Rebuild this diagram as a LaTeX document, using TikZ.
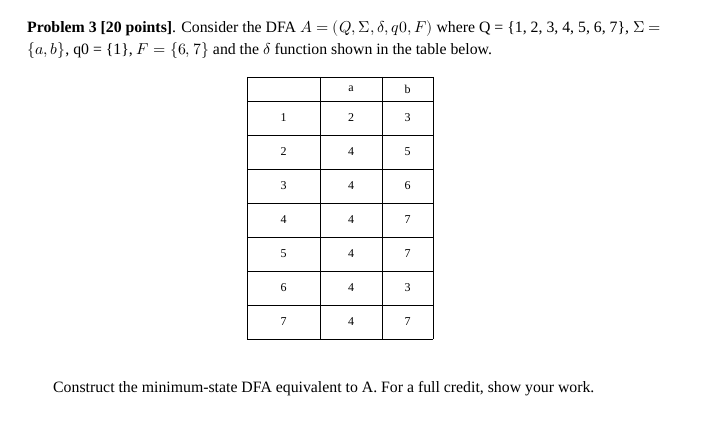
\documentclass[tikz,border=0pt]{standalone}
\usepackage{fontspec}
\setmainfont{Liberation Serif}
\usepackage{unicode-math}
\setmathfont{Latin Modern Math}
\begin{document}
\begin{tikzpicture}[x=1pt,y=-1pt,
  txt/.style={anchor=base west,inner sep=0pt,font=\fontsize{15.8}{18}\selectfont},
  cell/.style={inner sep=0pt,font=\fontsize{12}{14}\selectfont}]
\useasboundingbox (0,0) rectangle (713,430);
\node[txt] (l1) at (27,33) {\textbf{Problem 3 [20 points]}. Consider the DFA $A=(Q,\Sigma,\delta,q0,F)$ where Q = \{1, 2, 3, 4, 5, 6, 7\}, $\Sigma=$};
\node[txt] (l2) at (27,55) {$\{a,b\}$, q0 = \{1\}, $F=\{6,7\}$ and the $\delta$ function shown in the table below.};
\foreach \y in {77,101,135,169,203,237,271,305,339} \draw[line width=0.6pt] (247,\y) -- (433,\y);
\foreach \x in {247,320,382,433} \draw[line width=0.6pt] (\x,77) -- (\x,339);
\node[cell] (ha) at (351,89) {a};
\node[cell] (hb) at (407.5,89) {b};
\foreach \s/\a/\b [count=\i] in {1/2/3,2/4/5,3/4/6,4/4/7,5/4/7,6/4/3,7/4/7}{
  \pgfmathsetmacro\yy{101+34*\i-17}
  \node[cell] (s\i) at (283.5,\yy) {\s};
  \node[cell] (a\i) at (351,\yy) {\a};
  \node[cell] (b\i) at (407.5,\yy) {\b};
}
\node[txt] (l3) at (53,393) {Construct the minimum-state DFA equivalent to A. For a full credit, show your work.};
\end{tikzpicture}
\end{document}
